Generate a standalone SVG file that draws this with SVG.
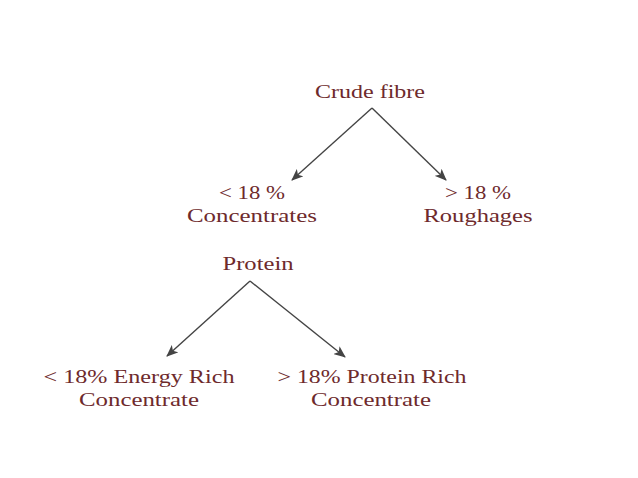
<svg xmlns="http://www.w3.org/2000/svg" width="638" height="478" viewBox="0 0 638 478">
<style>
text{font-family:"Liberation Serif","Times New Roman",serif;font-size:19px;fill:#6e2a2c;text-anchor:middle}
.c line{stroke:#444;stroke-width:1.4;fill:none}
</style>
<defs>
<marker id="ah" viewBox="0 0 12 10" refX="11" refY="5" markerWidth="12" markerHeight="10" markerUnits="userSpaceOnUse" orient="auto">
<path d="M0,0 L12,5 L0,10 L3,5 Z" fill="#444"/>
</marker>
</defs>
<rect width="638" height="478" fill="#fff"/>
<g class="c" id="connectors">
<line x1="372" y1="108" x2="292" y2="180" marker-end="url(#ah)"/>
<line x1="372" y1="108" x2="446" y2="180" marker-end="url(#ah)"/>
<line x1="250" y1="281" x2="167" y2="356" marker-end="url(#ah)"/>
<line x1="250" y1="281" x2="345" y2="357" marker-end="url(#ah)"/>
</g>
<g id="crude"><text x="370" y="98" textLength="110" lengthAdjust="spacingAndGlyphs">Crude fibre</text></g>
<g id="concentrates"><text x="252" y="199" textLength="66" lengthAdjust="spacingAndGlyphs">&lt; 18 %</text><text x="252" y="222" textLength="130" lengthAdjust="spacingAndGlyphs">Concentrates</text></g>
<g id="roughages"><text x="478" y="199" textLength="66" lengthAdjust="spacingAndGlyphs">&gt; 18 %</text><text x="478" y="222" textLength="109" lengthAdjust="spacingAndGlyphs">Roughages</text></g>
<g id="protein"><text x="258" y="270" textLength="71" lengthAdjust="spacingAndGlyphs">Protein</text></g>
<g id="energy"><text x="139" y="383" textLength="191" lengthAdjust="spacingAndGlyphs">&lt; 18% Energy Rich</text><text x="139" y="406" textLength="120" lengthAdjust="spacingAndGlyphs">Concentrate</text></g>
<g id="proteinrich"><text x="372" y="383" textLength="189" lengthAdjust="spacingAndGlyphs">&gt; 18% Protein Rich</text><text x="371" y="406" textLength="120" lengthAdjust="spacingAndGlyphs">Concentrate</text></g>
</svg>
